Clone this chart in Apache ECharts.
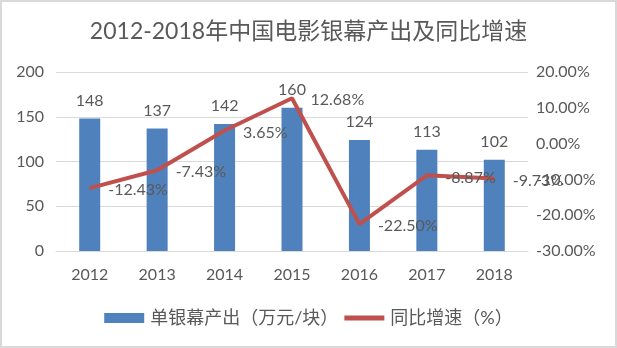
<!DOCTYPE html>
<html>
<head>
<meta charset="utf-8">
<script src="https://cdn.jsdelivr.net/npm/echarts@6/dist/echarts.min.js"></script>
<style>
  html, body { margin: 0; padding: 0; background: #fff; }
  #main { width: 613px; height: 344px; border: 2px solid #d9d9d9; }
</style>
</head>
<body>
<div id="main"></div>
<script>
var years = ['2012', '2013', '2014', '2015', '2016', '2017', '2018'];
var screenOutput = [148, 137, 142, 160, 124, 113, 102];   // 万元/块
var yoyGrowth = [-12.43, -7.43, 3.65, 12.68, -22.50, -8.87, -9.73];  // %

var font = "Lato, 'Noto Sans CJK SC', sans-serif";
var grey = '#595959';

var myChart = echarts.init(document.getElementById('main'));

myChart.setOption({
    animation: false,
    textStyle: { fontFamily: font },
    title: {
        text: '2012-2018年中国电影银幕产出及同比增速',
        left: 'center',
        top: 13,
        textStyle: { fontSize: 23, fontWeight: 'normal', color: grey, fontFamily: font }
    },
    legend: {
        bottom: 14,
        left: 'center',
        itemGap: 6,
        itemWidth: 40,
        itemHeight: 10,
        textStyle: { fontSize: 18, color: grey, fontFamily: font, padding: [0, 0, 0, 1] },
        data: [
            { name: '单银幕产出（万元/块）', icon: 'rect' },
            { name: '同比增速（%）', icon: 'path://M0,0H40V5H0Z' }
        ]
    },
    grid: { left: 54, right: 87, top: 70, bottom: 95 },
    xAxis: {
        type: 'category',
        data: years,
        axisLine: { lineStyle: { color: '#d9d9d9' } },
        axisTick: { show: false },
        axisLabel: { fontSize: 16, color: grey, margin: 16 }
    },
    yAxis: [
        {
            type: 'value',
            min: 0, max: 200, interval: 50,
            axisLine: { show: false },
            axisTick: { show: false },
            axisLabel: { fontSize: 16, color: grey, margin: 12 },
            splitLine: { lineStyle: { color: '#d9d9d9', width: 1 } }
        },
        {
            type: 'value',
            min: -30, max: 20, interval: 10,
            axisLine: { show: false },
            axisTick: { show: false },
            splitLine: { show: false },
            axisLabel: {
                fontSize: 16, color: grey, margin: 8,
                formatter: function (v) { return v.toFixed(2) + '%'; }
            }
        }
    ],
    series: [
        {
            name: '单银幕产出（万元/块）',
            type: 'bar',
            data: screenOutput,
            barWidth: 21,
            itemStyle: { color: '#4F81BD' },
            label: { show: true, position: 'top', distance: 10, fontSize: 16, color: grey }
        },
        {
            name: '同比增速（%）',
            type: 'line',
            yAxisIndex: 1,
            data: yoyGrowth,
            symbol: 'circle',
            symbolSize: 1,
            showSymbol: true,
            lineStyle: { color: '#C0504D', width: 4 },
            itemStyle: { color: '#C0504D' },
            label: {
                show: true, position: 'right', distance: 18, offset: [0, 2],
                fontSize: 16, color: grey,
                formatter: function (p) { return p.value.toFixed(2) + '%'; }
            }
        }
    ]
});
</script>
</body>
</html>
